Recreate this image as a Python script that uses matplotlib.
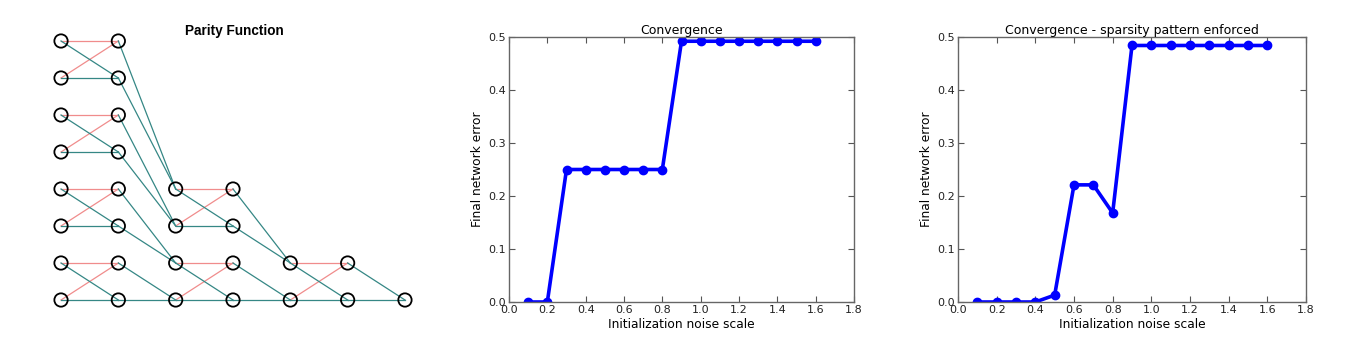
import matplotlib
matplotlib.use("Agg")
import matplotlib.pyplot as plt

# network diagram: node rows per column, butterfly and merge stages
node_rows = [list(range(8)), list(range(8)), [4, 5, 6, 7], [4, 5, 6, 7], [6, 7], [6, 7], [7]]
butterflies = [(0, [(0, 1), (2, 3), (4, 5), (6, 7)]),
               (2, [(4, 5), (6, 7)]),
               (4, [(6, 7)])]
merges = [(1, [((0, 1), 4), ((2, 3), 5), ((4, 5), 6), ((6, 7), 7)]),
          (3, [((4, 5), 6), ((6, 7), 7)]),
          (5, [((6, 7), 7)])]

# convergence curves
noise = [0.1, 0.2, 0.3, 0.4, 0.5, 0.6, 0.7, 0.8, 0.9, 1.0, 1.1, 1.2, 1.3, 1.4, 1.5, 1.6]
err_plain = [0.0, 0.0, 0.25, 0.25, 0.25, 0.25, 0.25, 0.25,
             0.492, 0.492, 0.492, 0.492, 0.492, 0.492, 0.492, 0.492]
err_sparse = [0.0, 0.0, 0.0, 0.0, 0.013, 0.221, 0.221, 0.168,
              0.484, 0.484, 0.484, 0.484, 0.484, 0.484, 0.484, 0.484]
xticks = [0.0, 0.2, 0.4, 0.6, 0.8, 1.0, 1.2, 1.4, 1.6, 1.8]
yticks = [0.0, 0.1, 0.2, 0.3, 0.4, 0.5]

W, H = 1353, 339
fig = plt.figure(figsize=(W / 100, H / 100), dpi=100)

RED = "#f08c8c"
TEAL = "#358785"

# ---- left: parity network
ax0 = fig.add_axes([3.7 / W, 2 / H, 458.6 / W, 333 / H])
for c, pairs in butterflies:
    for a, b in pairs:
        ax0.plot([c, c + 1], [a, a], color=RED, lw=0.9, zorder=1)
        ax0.plot([c, c + 1], [b, a], color=RED, lw=0.9, zorder=1)
        ax0.plot([c, c + 1], [a, b], color=TEAL, lw=0.9, zorder=1)
        ax0.plot([c, c + 1], [b, b], color=TEAL, lw=0.9, zorder=1)
for c, groups in merges:
    for (a, b), dst in groups:
        ax0.plot([c, c + 1], [a, dst], color=TEAL, lw=0.9, zorder=1)
        ax0.plot([c, c + 1], [b, dst], color=TEAL, lw=0.9, zorder=1)
for c, rows in enumerate(node_rows):
    ax0.scatter([c] * len(rows), rows, s=92, facecolors="none",
                edgecolors="black", linewidths=1.3, zorder=2)
ax0.set_xlim(-1, 7)
ax0.set_ylim(8, -1)
ax0.axis("off")
fig.text(234 / W, 1 - 31 / H, "Parity Function", ha="center", va="center",
         fontsize=9.8, fontweight="bold", family="Liberation Sans")


def conv_panel(rect, y, title):
    ax = fig.add_axes(rect)
    ax.plot(noise, y, color="b", lw=2.6, marker="o", markersize=6)
    ax.set_xlim(0, 1.8)
    ax.set_ylim(0, 0.5)
    ax.set_xticks(xticks)
    ax.set_yticks(yticks)
    ax.set_xticklabels([f"{t:.1f}" for t in xticks])
    ax.set_yticklabels([f"{t:.1f}" for t in yticks])
    ax.tick_params(direction="in", top=True, right=True, length=4,
                   labelsize=8, color="#555555", pad=2, labelcolor="#222222")
    for s in ax.spines.values():
        s.set_color("#666666")
        s.set_linewidth(1.0)
    ax.set_title(title, fontsize=9, pad=2)
    ax.set_xlabel("Initialization noise scale", fontsize=8.8, labelpad=2.5)
    ax.set_ylabel("Final network error", fontsize=8.8, labelpad=3)
    return ax


conv_panel([509 / W, (H - 302) / H, 345 / W, 265 / H], err_plain, "Convergence")
conv_panel([958 / W, (H - 302) / H, 348 / W, 265 / H], err_sparse,
           "Convergence - sparsity pattern enforced")

fig.savefig("out.png", dpi=100)
